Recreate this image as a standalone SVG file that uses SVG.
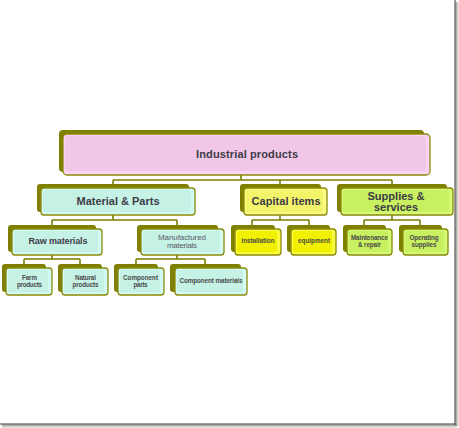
<svg xmlns="http://www.w3.org/2000/svg" width="459" height="428" viewBox="0 0 459 428">
<defs>
<linearGradient id="sr" x1="0" y1="0" x2="1" y2="0"><stop offset="0" stop-color="#9a9590"/><stop offset="1" stop-color="#f4f2ee"/></linearGradient>
<linearGradient id="sb" x1="0" y1="0" x2="0" y2="1"><stop offset="0" stop-color="#9a9590"/><stop offset="1" stop-color="#f4f2ee"/></linearGradient>
</defs>
<style>
.sh{fill:#808000}
.fr{stroke:#8a8a0a;stroke-width:1.3}
.conn{fill:none;stroke:#7e7e00;stroke-width:1.6}
text{font-family:"Liberation Sans",Arial,sans-serif;text-anchor:middle;fill:#3c3c46}
.b{font-weight:bold}
.big{font-size:11px}
.mid{font-size:9px}
.sm{font-size:6.3px;fill:#4a4a4a}
.reg{font-size:8px;fill:#5a5a66}
.pink{fill:#fbd3f6}.pinki{fill:#f2c6e6}
.mint{fill:#d2fbf4}.minti{fill:#c6f2e6}
.yel{fill:#fbfb84}.yeli{fill:#f4f46a}
.byel{fill:#fafa40}.byeli{fill:#f0f000}
.grn{fill:#d2fa74}.grni{fill:#c8f060}
</style>
<rect x="0" y="0" width="459" height="428" fill="#ffffff"/>
<rect x="455.5" y="2" width="3.5" height="424" fill="url(#sr)"/>
<rect x="2" y="424.5" width="455" height="3.5" fill="url(#sb)"/>
<line x1="455" y1="0" x2="455" y2="425" stroke="#3a3a3a" stroke-width="1"/>
<line x1="0" y1="424" x2="455.5" y2="424" stroke="#3a3a3a" stroke-width="1"/>

<g id="connectors">
<path class="conn" d="M241,175V180M113,180H392M113,180V184M280,180V184M392,180V184"/>
<path class="conn" d="M113,215V220M52,220H177M52,220V225M177,220V225"/>
<path class="conn" d="M280,215V220M252,220H309M252,220V225M309,220V225"/>
<path class="conn" d="M392,215V220M364,220H420M364,220V225M420,220V225"/>
<path class="conn" d="M52,255V259M24,259H80M24,259V264M80,259V264"/>
<path class="conn" d="M177,255V259M136,259H205M136,259V264M205,259V264"/>
</g>

<g id="industrial-products">
<rect class="sh" x="59" y="130" width="365" height="42" rx="4"/>
<rect class="fr pink" x="63" y="134" width="367" height="41" rx="4"/>
<rect class="pinki" x="65" y="136" width="361" height="35" rx="3"/>
<text class="b big" x="247" y="158" textLength="102">Industrial products</text>
</g>

<g id="material-parts">
<rect class="sh" x="37" y="184" width="152" height="28" rx="3"/>
<rect class="fr mint" x="41" y="188" width="154" height="27" rx="3"/>
<rect class="minti" x="43" y="190" width="148" height="22" rx="2"/>
<text class="b big" x="118" y="205" textLength="83">Material &amp; Parts</text>
</g>

<g id="capital-items">
<rect class="sh" x="240" y="184" width="81" height="28" rx="3"/>
<rect class="fr yel" x="244" y="188" width="83" height="27" rx="3"/>
<rect class="yeli" x="246" y="190" width="77" height="22" rx="2"/>
<text class="b big" x="286" y="205" textLength="69">Capital items</text>
</g>

<g id="supplies-services">
<rect class="sh" x="337" y="184" width="110" height="28" rx="3"/>
<rect class="fr grn" x="341" y="188" width="112" height="27" rx="3"/>
<rect class="grni" x="343" y="190" width="106" height="22" rx="2"/>
<text class="b big" x="396" y="200" textLength="57">Supplies &amp;</text>
<text class="b big" x="396" y="211" textLength="44">services</text>
</g>

<g id="raw-materials">
<rect class="sh" x="8" y="225" width="88" height="27" rx="3"/>
<rect class="fr mint" x="12" y="229" width="90" height="26" rx="3"/>
<rect class="minti" x="14" y="231" width="84" height="21" rx="2"/>
<text class="b mid" x="58" y="244.2" textLength="59">Raw materials</text>
</g>

<g id="manufactured-materials">
<rect class="sh" x="137" y="225" width="81" height="27" rx="3"/>
<rect class="fr mint" x="141" y="229" width="83" height="26" rx="3"/>
<rect class="minti" x="143" y="231" width="77" height="21" rx="2"/>
<text class="reg" x="182" y="239.9" textLength="48">Manufactured</text>
<text class="reg" x="182" y="247.8" textLength="30">materials</text>
</g>

<g id="installation">
<rect class="sh" x="231" y="225" width="44" height="27" rx="3"/>
<rect class="fr byel" x="235" y="229" width="46" height="26" rx="3"/>
<rect class="byeli" x="237" y="231" width="40" height="21" rx="2"/>
<text class="b sm" x="258" y="243.2" textLength="33">installation</text>
</g>

<g id="equipment">
<rect class="sh" x="287" y="225" width="43" height="27" rx="3"/>
<rect class="fr byel" x="291" y="229" width="45" height="26" rx="3"/>
<rect class="byeli" x="293" y="231" width="39" height="21" rx="2"/>
<text class="b sm" x="314" y="243.2" textLength="32">equipment</text>
</g>

<g id="maintenance-repair">
<rect class="sh" x="343" y="225" width="43" height="27" rx="3"/>
<rect class="fr grn" x="347" y="229" width="45" height="26" rx="3"/>
<rect class="grni" x="349" y="231" width="39" height="21" rx="2"/>
<text class="b sm" x="369.5" y="240.3" textLength="37">Maintenance</text>
<text class="b sm" x="369.5" y="246.6" textLength="23">&amp; repair</text>
</g>

<g id="operating-supplies">
<rect class="sh" x="399" y="225" width="43" height="27" rx="3"/>
<rect class="fr grn" x="403" y="229" width="45" height="26" rx="3"/>
<rect class="grni" x="405" y="231" width="39" height="21" rx="2"/>
<text class="b sm" x="424" y="240.3" textLength="29">Operating</text>
<text class="b sm" x="424" y="246.6" textLength="25">supplies</text>
</g>

<g id="farm-products">
<rect class="sh" x="2" y="264" width="44" height="28" rx="3"/>
<rect class="fr mint" x="6" y="268" width="46" height="27" rx="3"/>
<rect class="minti" x="8" y="270" width="40" height="22" rx="2"/>
<text class="b sm" x="29.5" y="280.2" textLength="15">Farm</text>
<text class="b sm" x="29.5" y="286.5" textLength="25">products</text>
</g>

<g id="natural-products">
<rect class="sh" x="58" y="264" width="44" height="28" rx="3"/>
<rect class="fr mint" x="62" y="268" width="46" height="27" rx="3"/>
<rect class="minti" x="64" y="270" width="40" height="22" rx="2"/>
<text class="b sm" x="85.5" y="280.2" textLength="21">Natural</text>
<text class="b sm" x="85.5" y="286.5" textLength="26">products</text>
</g>

<g id="component-parts">
<rect class="sh" x="114" y="264" width="44" height="28" rx="3"/>
<rect class="fr mint" x="118" y="268" width="46" height="27" rx="3"/>
<rect class="minti" x="120" y="270" width="40" height="22" rx="2"/>
<text class="b sm" x="140.5" y="280.2" textLength="35">Component</text>
<text class="b sm" x="140.5" y="286.5" textLength="14">parts</text>
</g>

<g id="component-materials">
<rect class="sh" x="170" y="264" width="71" height="28" rx="3"/>
<rect class="fr mint" x="175" y="268" width="72" height="27" rx="3"/>
<rect class="minti" x="177" y="270" width="66" height="22" rx="2"/>
<text class="b sm" x="211" y="283.2" textLength="63">Component materials</text>
</g>
</svg>
